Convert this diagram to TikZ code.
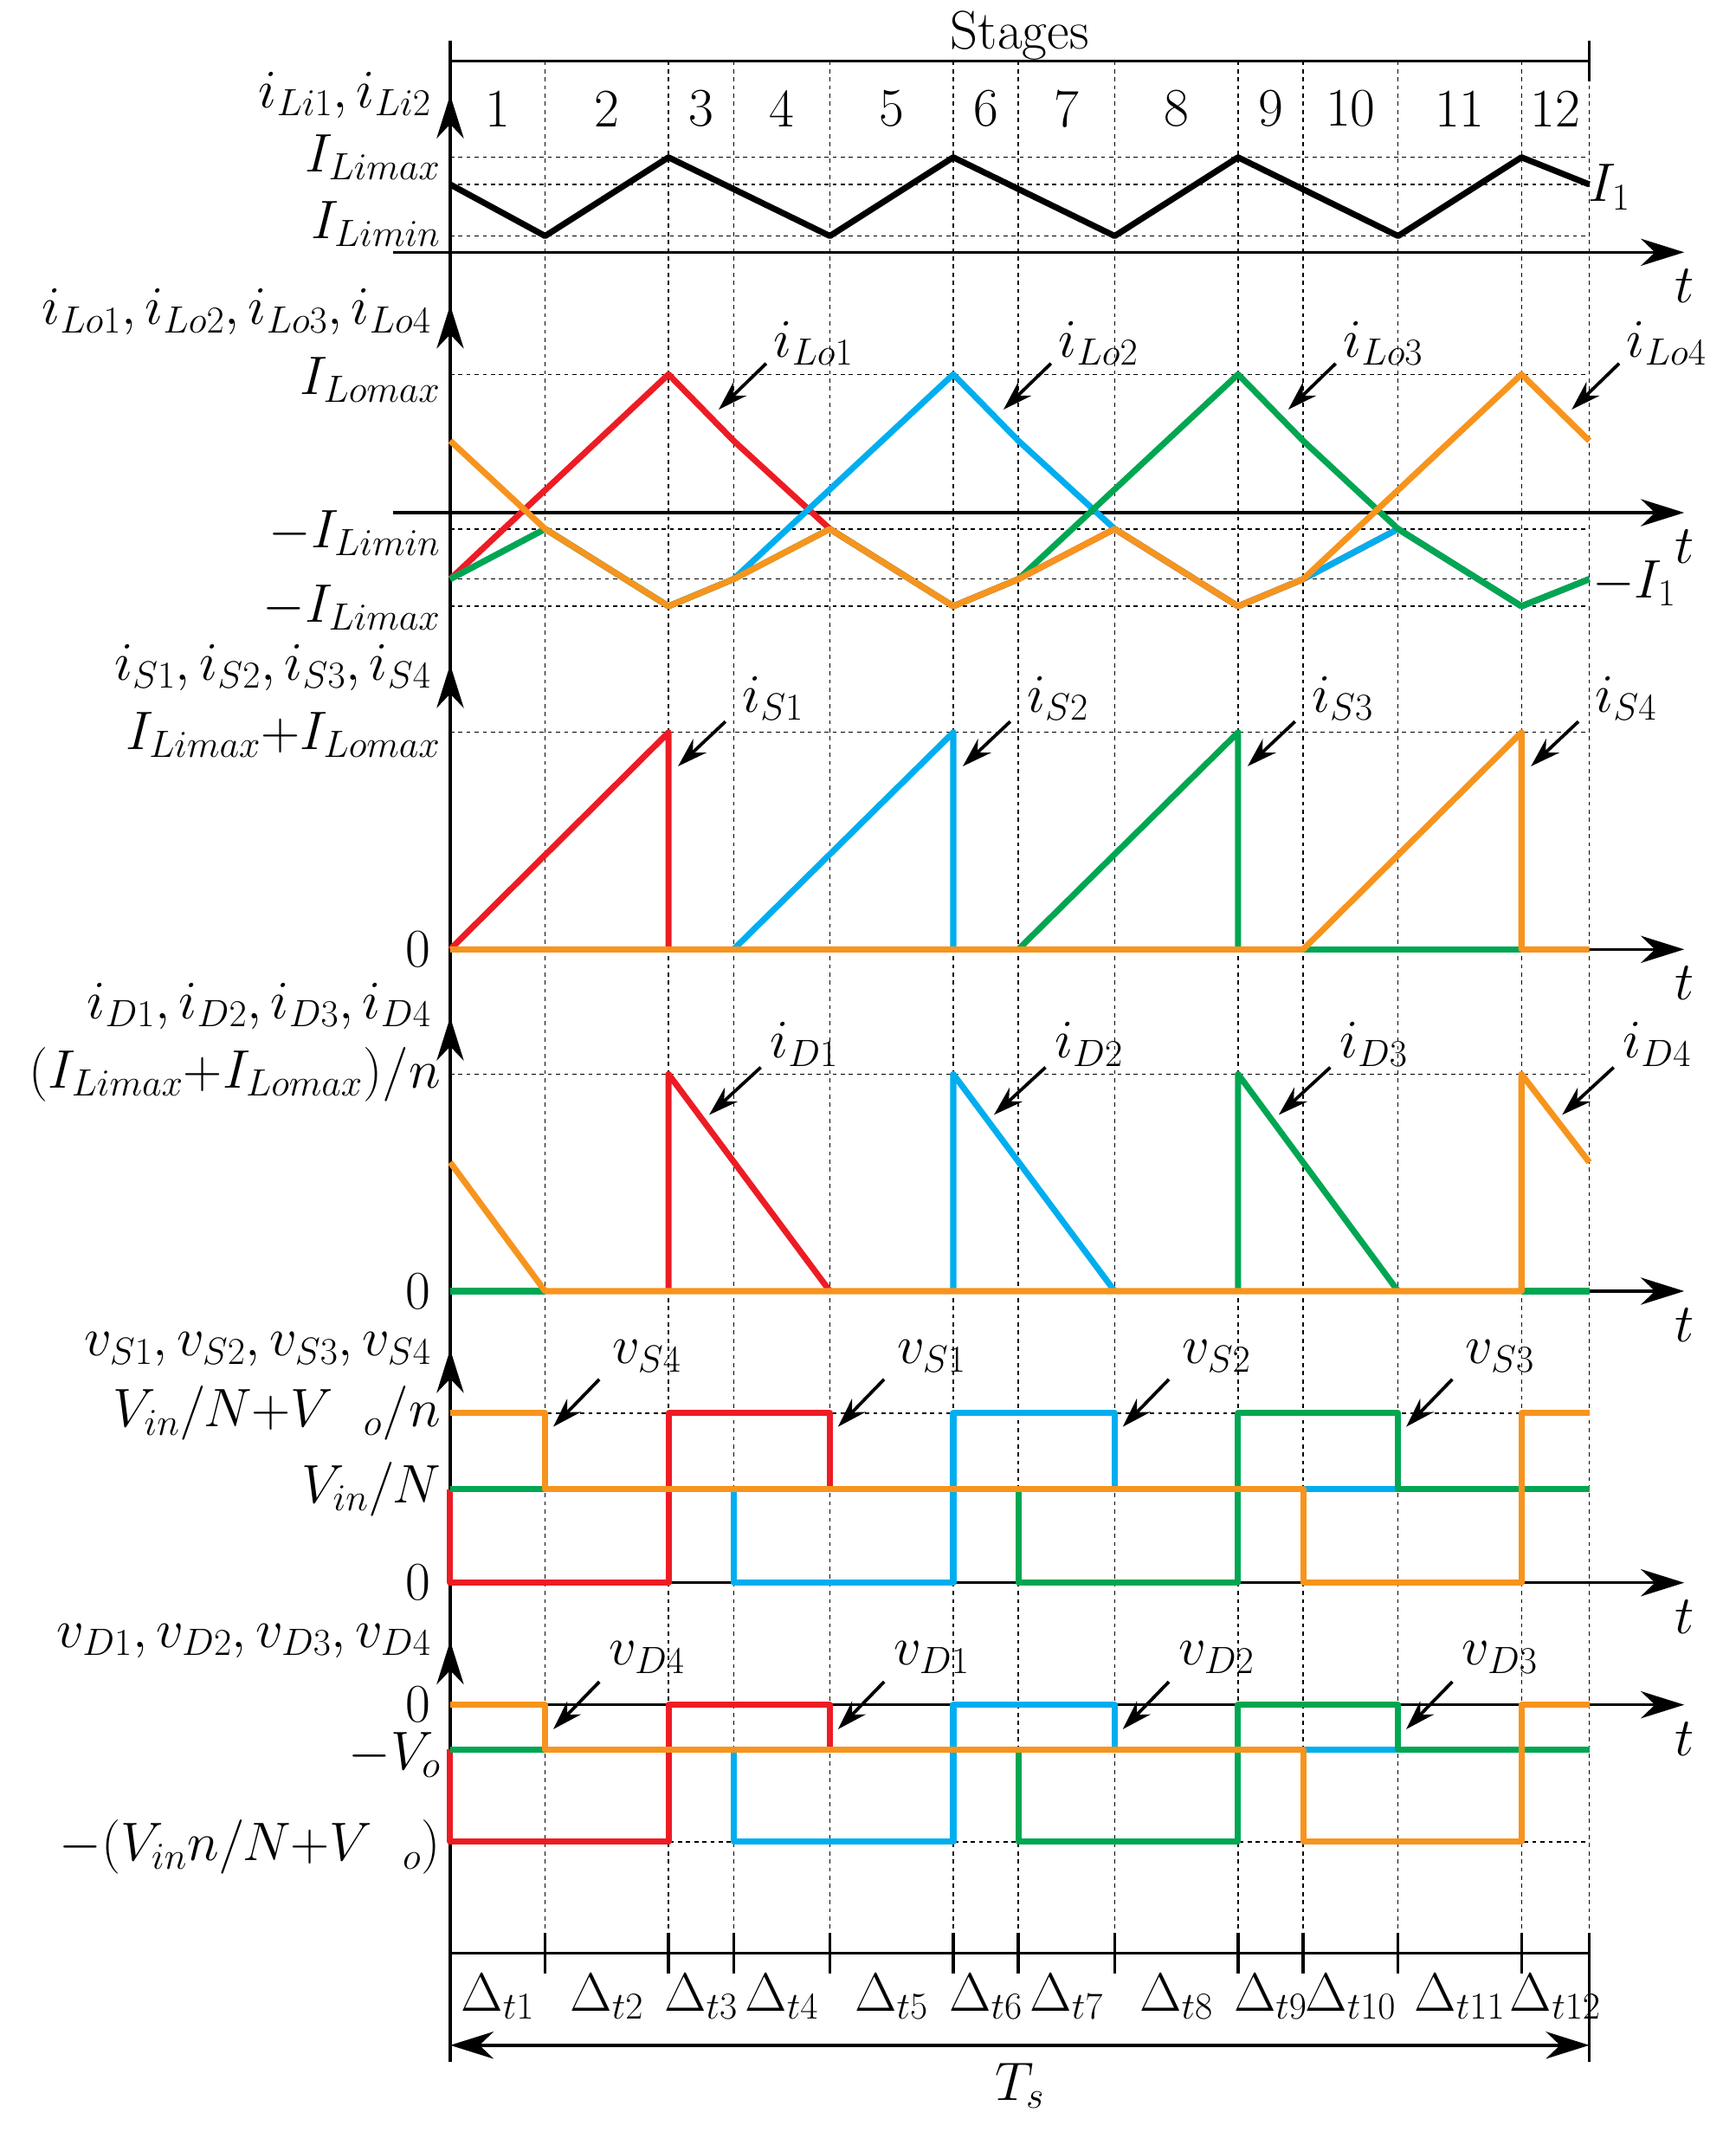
\RequirePackage{fix-cm}
\documentclass[tikz,border=0pt]{standalone}
\usetikzlibrary{arrows.meta}
\DeclareMathSizes{40}{40}{28}{20}
\definecolor{cr}{HTML}{ED1C24}
\definecolor{cb}{HTML}{00AEEF}
\definecolor{cg}{HTML}{00A651}
\definecolor{co}{HTML}{F7941D}
\begin{document}
\begin{tikzpicture}[x=1pt,y=-1pt,font=\fontsize{40}{44}\selectfont,
 wave/.style={line width=4.5pt,line join=round},
 ax/.style={line width=2.2pt,-{Stealth[length=32pt,width=20pt]}},
 dsh/.style={line width=0.9pt,dash pattern=on 3pt off 3pt},
 lbl/.style={anchor=east,inner sep=0pt},
 ptr/.style={line width=2.4pt,-{Stealth[length=22pt,width=14pt]}}]
\useasboundingbox (0,0) rectangle (1280,1572);
% dashed grid
\foreach \x in {402,493,541,612,703,751,822,913,961,1031,1122,1172} \draw[dsh] (\x,45) -- (\x,1440);
\foreach \y in {116,136,174,276,390,427,447,540,792,1042,1358} \draw[dsh] (332,\y) -- (1172,\y);
% stages
\draw[line width=2.2pt] (332,45) -- (1172,45);
\draw[line width=2.2pt] (332,30) -- (332,60) (1172,30) -- (1172,60);
\node at (752,26) {Stages};
\foreach \a/\b/\n in {332/402/1,402/493/2,493/541/3,541/612/4,612/703/5,703/751/6,751/822/7,822/913/8,913/961/9,961/1031/10,1031/1122/11,1122/1172/12}
 \node at ({(\a+\b)/2},80) {\n};
% main vertical axis
\draw[line width=2.2pt] (332,1520) -- (332,60);
% panel axes
\foreach \y/\top/\xs in {186/70/290,378/225/290,700/490/332,952/750/332,1167/995/332,1257/1210/332}{
 \draw[ax] (\xs,\y) -- (1242,\y);
 \node at (1242,{\y+25}) {$t$};
 \draw[ax] (332,{\y+20}) -- (332,\top);
}
% panel 1
\node[lbl] at (318,70) {$i_{Li1},i_{Li2}$};
\node[lbl] at (325,116) {$I_{Limax}$};
\node[lbl] at (325,165) {$I_{Limin}$};
\node[anchor=west] at (1168,138) {$I_1$};
\draw[wave,black] (332,136) -- (402,174) -- (493,116) -- (612,174) -- (703,116) -- (822,174) -- (913,116) -- (1031,174) -- (1122,116) -- (1172,136);
% panel 2
\node[lbl] at (318,230) {$i_{Lo1},i_{Lo2},i_{Lo3},i_{Lo4}$};
\node[lbl] at (325,280) {$I_{Lomax}$};
\node[lbl] at (325,393) {$-I_{Limin}$};
\node[lbl] at (325,448) {$-I_{Limax}$};
\node[anchor=west,inner sep=2pt] at (1172,430) {$-I_1$};
\draw[wave,cr] (332,427) -- (493,276) -- (541,325) -- (612,390) -- (703,447) -- (751,427) -- (822,390) -- (913,447) -- (961,427) -- (1031,390) -- (1122,447) -- (1172,427);
\draw[wave,cb] (332,427) -- (402,390) -- (493,447) -- (541,427) -- (703,276) -- (751,325) -- (822,390) -- (913,447) -- (961,427) -- (1031,390) -- (1122,447) -- (1172,427);
\draw[wave,cg] (332,427) -- (402,390) -- (493,447) -- (541,427) -- (612,390) -- (703,447) -- (751,427) -- (913,276) -- (961,325) -- (1031,390) -- (1122,447) -- (1172,427);
\draw[wave,co] (332,325) -- (402,390) -- (493,447) -- (541,427) -- (612,390) -- (703,447) -- (751,427) -- (822,390) -- (913,447) -- (961,427) -- (1122,276) -- (1172,325);
\foreach \x/\k in {493/1,703/2,913/3,1122/4}{
 \draw[ptr] ({\x+72},268) -- ({\x+37},302);
 \node at ({\x+107},253) {$i_{Lo\k}$};
}
% panel 3
\node[lbl] at (318,492) {$i_{S1},i_{S2},i_{S3},i_{S4}$};
\node[lbl] at (325,542) {$I_{Limax}{+}I_{Lomax}$};
\node[lbl] at (318,700) {$0$};
\draw[wave,cr] (332,700) -- (493,540) -- (493,700);
\draw[wave,cb] (541,700) -- (703,540) -- (703,700);
\draw[wave,cg] (751,700) -- (913,540) -- (913,700);
\draw[wave,cg] (961,700) -- (1122,700);
\draw[wave,co] (332,700) -- (961,700) -- (1122,540) -- (1122,700) -- (1172,700);
\foreach \x/\k in {493/1,703/2,913/3,1122/4}{
 \draw[ptr] ({\x+42},532) -- ({\x+7},565);
 \node at ({\x+77},515) {$i_{S\k}$};
}
% panel 4
\node[lbl] at (318,742) {$i_{D1},i_{D2},i_{D3},i_{D4}$};
\node[lbl] at (325,792) {$(I_{Limax}{+}I_{Lomax})/n$};
\node[lbl] at (318,952) {$0$};
\draw[wave,cr] (493,952) -- (493,792) -- (612,952);
\draw[wave,cb] (703,952) -- (703,792) -- (822,952);
\draw[wave,cg] (913,952) -- (913,792) -- (1031,952);
\draw[wave,cg] (332,952) -- (402,952) (1122,952) -- (1172,952);
\draw[wave,co] (332,857) -- (402,952) -- (1122,952) -- (1122,792) -- (1172,857);
\foreach \x/\k in {493/1,703/2,913/3,1122/4}{
 \draw[ptr] ({\x+68},787) -- ({\x+30},822);
 \node at ({\x+100},770) {$i_{D\k}$};
}
% panel 5
\node[lbl] at (318,995) {$v_{S1},v_{S2},v_{S3},v_{S4}$};
\node[lbl] at (325,1042) {$V_{in}/N{+}V\;\;{}_o/n$};
\node[lbl] at (325,1098) {$V_{in}/N$};
\node[lbl] at (318,1167) {$0$};
\draw[wave,cr] (332,1098) -- (332,1167) -- (493,1167) -- (493,1042) -- (612,1042) -- (612,1098) -- (1172,1098);
\draw[wave,cb] (332,1098) -- (541,1098) -- (541,1167) -- (703,1167) -- (703,1042) -- (822,1042) -- (822,1098) -- (1172,1098);
\draw[wave,cg] (332,1098) -- (751,1098) -- (751,1167) -- (913,1167) -- (913,1042) -- (1031,1042) -- (1031,1098) -- (1172,1098);
\draw[wave,co] (332,1042) -- (402,1042) -- (402,1098) -- (961,1098) -- (961,1167) -- (1122,1167) -- (1122,1042) -- (1172,1042);
\foreach \x/\k in {402/4,612/1,822/2,1031/3}{
 \draw[ptr] ({\x+40},1017) -- ({\x+6},1052);
 \node at ({\x+75},1000) {$v_{S\k}$};
}
% panel 6
\node[lbl] at (318,1210) {$v_{D1},v_{D2},v_{D3},v_{D4}$};
\node[lbl] at (318,1257) {$0$};
\node[lbl] at (325,1294) {$-V_o$};
\node[lbl] at (325,1362) {$-(V_{in}n/N{+}V\;\;{}_o)$};
\draw[wave,cr] (332,1290) -- (332,1358) -- (493,1358) -- (493,1257) -- (612,1257) -- (612,1290) -- (1172,1290);
\draw[wave,cb] (332,1290) -- (541,1290) -- (541,1358) -- (703,1358) -- (703,1257) -- (822,1257) -- (822,1290) -- (1172,1290);
\draw[wave,cg] (332,1290) -- (751,1290) -- (751,1358) -- (913,1358) -- (913,1257) -- (1031,1257) -- (1031,1290) -- (1172,1290);
\draw[wave,co] (332,1257) -- (402,1257) -- (402,1290) -- (961,1290) -- (961,1358) -- (1122,1358) -- (1122,1257) -- (1172,1257);
\foreach \x/\k in {402/4,612/1,822/2,1031/3}{
 \draw[ptr] ({\x+40},1240) -- ({\x+6},1275);
 \node at ({\x+75},1222) {$v_{D\k}$};
}
% bottom
\draw[line width=2.2pt] (332,1440) -- (1172,1440);
\foreach \x in {332,402,493,541,612,703,751,822,913,961,1031,1122,1172} \draw[line width=2.2pt] (\x,1425) -- (\x,1455);
\draw[line width=2.2pt] (1172,1440) -- (1172,1520);
\foreach \a/\b/\n in {332/402/1,402/493/2,493/541/3,541/612/4,612/703/5,703/751/6,751/822/7,822/913/8,913/961/9,961/1031/10,1031/1122/11,1122/1172/12}
 \node at ({(\a+\b)/2},1472) {$\Delta_{t\n}$};
\draw[line width=2.2pt,{Stealth[length=32pt,width=20pt]}-{Stealth[length=32pt,width=20pt]}] (332,1508) -- (1172,1508);
\node at (752,1538) {$T_s$};
\end{tikzpicture}
\end{document}
